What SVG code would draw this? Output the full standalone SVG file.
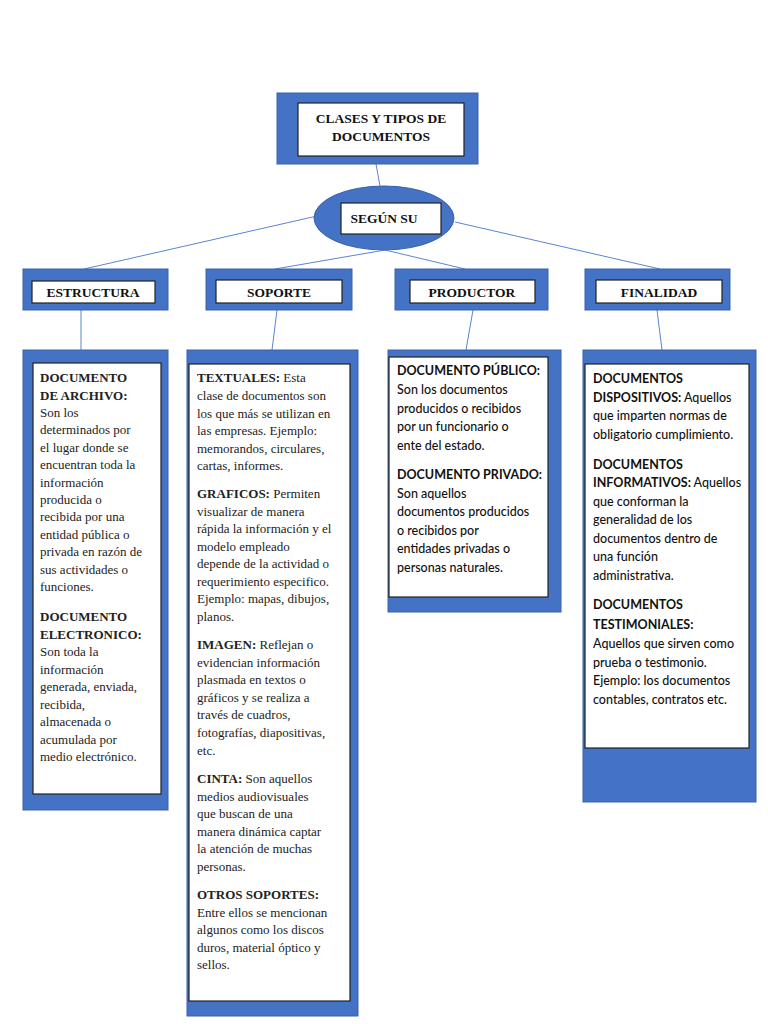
<svg xmlns="http://www.w3.org/2000/svg" width="768" height="1024" viewBox="0 0 768 1024">
<style>
.o{fill:#4472C4;stroke:#3A62A8;stroke-width:1}
.i{fill:#fff;stroke:#222;stroke-width:1.2}
.h{font-family:"Liberation Serif",serif;font-size:13.5px;font-weight:bold;text-anchor:middle;fill:#111}
.s{font-family:"Liberation Serif",serif;font-size:13px;fill:#222}
.c{font-family:"Lato","Open Sans",sans-serif;font-size:12.5px;fill:#111;font-weight:500}
.b{font-weight:bold}
.cn line{stroke:#5B85CF;stroke-width:1}
</style>
<rect width="768" height="1024" fill="#fff"/>
<g class="cn">
<line x1="376" y1="164" x2="380" y2="186"/>
<line x1="317" y1="216" x2="84" y2="269"/>
<line x1="385" y1="250" x2="275" y2="269"/>
<line x1="385" y1="250" x2="465" y2="269"/>
<line x1="455" y1="222" x2="660" y2="269"/>
<line x1="81" y1="310" x2="81" y2="350"/>
<line x1="277" y1="310" x2="272" y2="350"/>
<line x1="473" y1="310" x2="466" y2="350"/>
<line x1="657" y1="310" x2="662" y2="350"/>
</g>
<g id="root"><rect class="o" x="277" y="93" width="201" height="71"/><rect class="i" x="298" y="103" width="166" height="53"/>
<text class="h" x="381" y="123">CLASES Y TIPOS DE</text><text class="h" x="381" y="141">DOCUMENTOS</text></g>
<g id="segun"><ellipse class="o" cx="384" cy="218" rx="70" ry="32"/><rect class="i" x="341" y="203" width="100" height="31"/><text class="h" x="384" y="223">SEGÚN SU</text></g>
<g id="estructura"><rect class="o" x="23" y="269" width="145" height="41"/><rect class="i" x="32" y="281" width="123" height="22"/><text class="h" x="93" y="297">ESTRUCTURA</text></g>
<g id="soporte"><rect class="o" x="206" y="269" width="146" height="41"/><rect class="i" x="216" y="280" width="126" height="23"/><text class="h" x="279" y="297">SOPORTE</text></g>
<g id="productor"><rect class="o" x="395" y="269" width="153" height="41"/><rect class="i" x="410" y="280" width="125" height="23"/><text class="h" x="472" y="297">PRODUCTOR</text></g>
<g id="finalidad"><rect class="o" x="585" y="269" width="145" height="41"/><rect class="i" x="596" y="280" width="126" height="23"/><text class="h" x="659" y="297">FINALIDAD</text></g>

<g id="col1"><rect class="o" x="23" y="350" width="145" height="460"/><rect class="i" x="33" y="363" width="128" height="431"/>
<text class="s" x="40"><tspan class="b" y="382" x="40">DOCUMENTO</tspan><tspan class="b" x="40" y="400">DE ARCHIVO:</tspan><tspan x="40" y="417">Son los</tspan><tspan x="40" y="434">determinados  por</tspan><tspan x="40" y="452">el lugar donde se</tspan><tspan x="40" y="469">encuentran toda la</tspan><tspan x="40" y="487">información</tspan><tspan x="40" y="504">producida o</tspan><tspan x="40" y="521">recibida por una</tspan><tspan x="40" y="539">entidad pública o</tspan><tspan x="40" y="556">privada en razón de</tspan><tspan x="40" y="574">sus actividades o</tspan><tspan x="40" y="591">funciones.</tspan><tspan class="b" x="40" y="621">DOCUMENTO</tspan><tspan class="b" x="40" y="639">ELECTRONICO:</tspan><tspan x="40" y="656">Son toda la</tspan><tspan x="40" y="674">información</tspan><tspan x="40" y="691">generada, enviada,</tspan><tspan x="40" y="709">recibida,</tspan><tspan x="40" y="726">almacenada o</tspan><tspan x="40" y="744">acumulada por</tspan><tspan x="40" y="761">medio electrónico.</tspan></text></g>

<g id="col2"><rect class="o" x="187" y="350" width="171" height="666"/><rect class="i" x="189" y="364" width="161" height="637"/>
<text class="s" x="197"><tspan x="197" y="382"><tspan class="b">TEXTUALES:</tspan> Esta</tspan><tspan x="197" y="400">clase de documentos son</tspan><tspan x="197" y="418">los que más se utilizan en</tspan><tspan x="197" y="435">las empresas. Ejemplo:</tspan><tspan x="197" y="453">memorandos, circulares,</tspan><tspan x="197" y="470">cartas, informes.</tspan><tspan x="197" y="498"><tspan class="b">GRAFICOS:</tspan> Permiten</tspan><tspan x="197" y="516">visualizar de manera</tspan><tspan x="197" y="533">rápida la información y el</tspan><tspan x="197" y="551">modelo empleado</tspan><tspan x="197" y="568">depende de la actividad o</tspan><tspan x="197" y="586">requerimiento especifico.</tspan><tspan x="197" y="603">Ejemplo: mapas, dibujos,</tspan><tspan x="197" y="621">planos.</tspan><tspan x="197" y="649"><tspan class="b">IMAGEN:</tspan> Reflejan o</tspan><tspan x="197" y="667">evidencian información</tspan><tspan x="197" y="684">plasmada en textos o</tspan><tspan x="197" y="702">gráficos y se realiza a</tspan><tspan x="197" y="719">través de cuadros,</tspan><tspan x="197" y="737">fotografías, diapositivas,</tspan><tspan x="197" y="755">etc.</tspan><tspan x="197" y="783"><tspan class="b">CINTA:</tspan> Son aquellos</tspan><tspan x="197" y="801">medios audiovisuales</tspan><tspan x="197" y="818">que buscan de una</tspan><tspan x="197" y="836">manera dinámica captar</tspan><tspan x="197" y="853">la atención de muchas</tspan><tspan x="197" y="871">personas.</tspan><tspan class="b" x="197" y="899">OTROS SOPORTES:</tspan><tspan x="197" y="917">Entre ellos se mencionan</tspan><tspan x="197" y="934">algunos como los discos</tspan><tspan x="197" y="952">duros, material óptico y</tspan><tspan x="197" y="969">sellos.</tspan></text></g>

<g id="col3"><rect class="o" x="388" y="350" width="173" height="262"/><rect class="i" x="389" y="357" width="159" height="240"/>
<text class="c" x="397"><tspan class="b" x="397" y="375">DOCUMENTO PÚBLICO:</tspan><tspan x="397" y="394">Son los documentos</tspan><tspan x="397" y="413">producidos o recibidos</tspan><tspan x="397" y="431">por un funcionario o</tspan><tspan x="397" y="450">ente del estado.</tspan><tspan class="b" x="397" y="479">DOCUMENTO PRIVADO:</tspan><tspan x="397" y="498">Son aquellos</tspan><tspan x="397" y="516">documentos producidos</tspan><tspan x="397" y="535">o recibidos por</tspan><tspan x="397" y="553">entidades privadas o</tspan><tspan x="397" y="572">personas naturales.</tspan></text></g>

<g id="col4"><rect class="o" x="583" y="350" width="173" height="452"/><rect class="i" x="585" y="364" width="164" height="384"/>
<text class="c" x="593"><tspan class="b" x="593" y="383">DOCUMENTOS</tspan><tspan x="593" y="402"><tspan class="b">DISPOSITIVOS:</tspan> Aquellos</tspan><tspan x="593" y="420">que imparten normas de</tspan><tspan x="593" y="439">obligatorio cumplimiento.</tspan><tspan class="b" x="593" y="469">DOCUMENTOS</tspan><tspan x="593" y="487"><tspan class="b">INFORMATIVOS:</tspan> Aquellos</tspan><tspan x="593" y="506">que conforman la</tspan><tspan x="593" y="524">generalidad de los</tspan><tspan x="593" y="543">documentos dentro de</tspan><tspan x="593" y="561">una función</tspan><tspan x="593" y="580">administrativa.</tspan><tspan class="b" x="593" y="609">DOCUMENTOS</tspan><tspan class="b" x="593" y="629">TESTIMONIALES:</tspan><tspan x="593" y="648">Aquellos que sirven como</tspan><tspan x="593" y="667">prueba o testimonio.</tspan><tspan x="593" y="685">Ejemplo: los documentos</tspan><tspan x="593" y="704">contables, contratos etc.</tspan></text></g>
</svg>
